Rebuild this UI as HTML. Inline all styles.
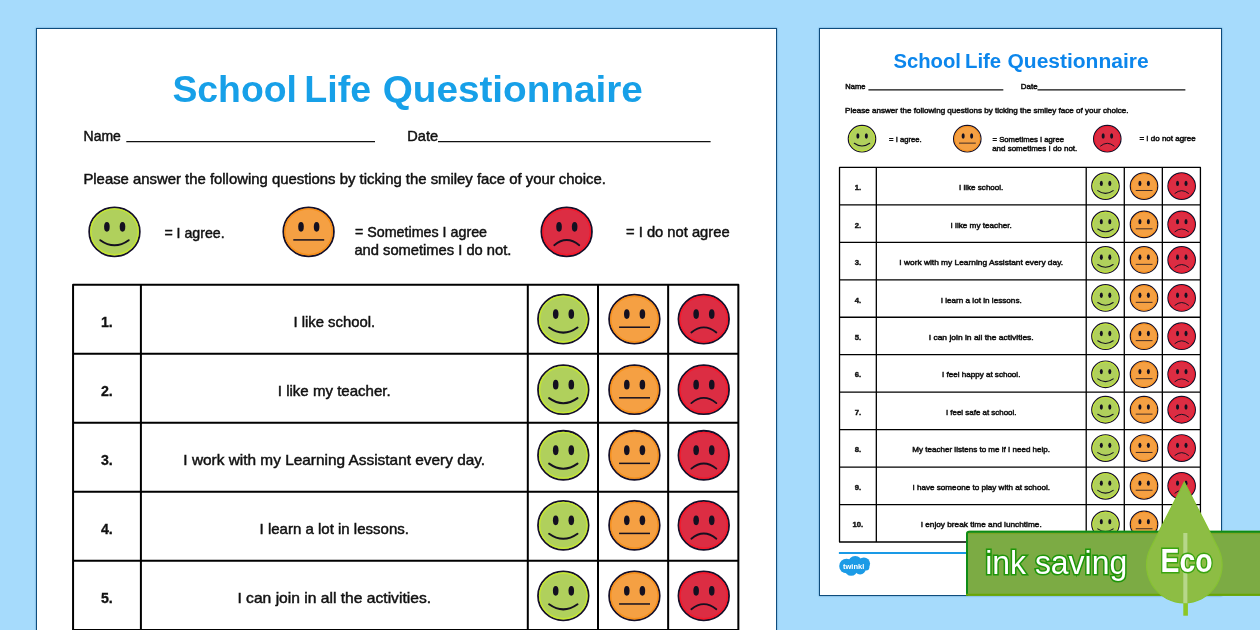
<!DOCTYPE html>
<html><head><meta charset="utf-8"><title>School Life Questionnaire</title>
<style>
html,body{margin:0;padding:0;}
body{width:1260px;height:630px;overflow:hidden;background:#a6dbfc;position:relative;font-family:'Liberation Sans', Arial, sans-serif;}
.pg{position:absolute;background:#fff;box-sizing:border-box;border:1px solid #0e4c7c;box-shadow:0 0 1.5px rgba(20,90,150,.6);overflow:hidden;}
.pg svg{position:absolute;left:-1px;top:-1px;}
#L{left:36px;top:28px;width:741px;height:1045px;}
#R{left:819px;top:28px;width:403px;height:568px;}
#R svg{width:401.99px;height:566.9px;}
#L svg{width:741px;height:1045px;}
text.t{stroke:#111;stroke-width:.45px;}
#R text.t{stroke-width:.9px;}
text.b{stroke:#111;stroke-width:.3px;}
#R text.b{stroke-width:.8px;}
#R .ttl{fill:#0c86ec;}
#R .ul{stroke-width:2.2px;}
#R .ri{stroke-width:1.8px;rx:23.45px;ry:22.65px;}
#R .ln{stroke-width:2.4px;}
#R .fo{stroke-width:2.2px;}
.eco{position:absolute;left:0;top:0;}
</style></head><body>
<div class="pg" id="L"><svg viewBox="0 0 741 1045" width="100%" height="100%" font-family="'Liberation Sans', Arial, sans-serif" style="display:block"><text class="ttl" x="136.4" y="73.7" font-size="37.6" font-weight="bold" text-anchor="start" fill="#17a0e8" textLength="124.5" lengthAdjust="spacingAndGlyphs">School</text><text class="ttl" x="268.3" y="73.7" font-size="37.6" font-weight="bold" text-anchor="start" fill="#17a0e8" textLength="66.8" lengthAdjust="spacingAndGlyphs">Life</text><text class="ttl" x="346.7" y="73.7" font-size="37.6" font-weight="bold" text-anchor="start" fill="#17a0e8" textLength="260.2" lengthAdjust="spacingAndGlyphs">Questionnaire</text><text class="t" x="47.6" y="112.9" font-size="13.8" font-weight="normal" text-anchor="start" fill="#111" textLength="37.3" lengthAdjust="spacingAndGlyphs">Name</text><path class="ul" d="M90.3 113.6H339M402 113.6H674.6" stroke="#111" stroke-width="1.4"/><text class="t" x="371.3" y="112.9" font-size="13.8" font-weight="normal" text-anchor="start" fill="#111" textLength="30.8" lengthAdjust="spacingAndGlyphs">Date</text><text class="t" x="47.4" y="155.6" font-size="14.2" font-weight="normal" text-anchor="start" fill="#111" textLength="522.5" lengthAdjust="spacingAndGlyphs">Please answer the following questions by ticking the smiley face of your choice.</text><ellipse cx="78.50" cy="203.80" rx="25.3" ry="24.5" fill="#b0d05c" class="fo" stroke="#15102a" stroke-width="1.8"/><ellipse cx="78.50" cy="203.80" rx="23.7" ry="22.9" fill="none" class="ri" stroke="#c6e632" stroke-width="1.4"/><ellipse cx="70.90" cy="198.80" rx="2.8" ry="4.9" fill="#141020"/><ellipse cx="86.50" cy="198.80" rx="2.8" ry="4.9" fill="#141020"/><path d="M64.30 212.20 Q78.50 222.40 92.70 212.20" fill="none" stroke="#141020" stroke-width="2" stroke-linecap="round"/><ellipse cx="272.60" cy="203.80" rx="25.3" ry="24.5" fill="#f5a043" class="fo" stroke="#15102a" stroke-width="1.8"/><ellipse cx="272.60" cy="203.80" rx="23.7" ry="22.9" fill="none" class="ri" stroke="#f78f1a" stroke-width="1.4"/><ellipse cx="265.00" cy="198.80" rx="2.8" ry="4.9" fill="#141020"/><ellipse cx="280.60" cy="198.80" rx="2.8" ry="4.9" fill="#141020"/><path d="M257.30 211.90 H288.20" stroke="#141020" stroke-width="1.5"/><ellipse cx="530.65" cy="203.80" rx="25.3" ry="24.5" fill="#dc2d43" class="fo" stroke="#15102a" stroke-width="1.8"/><ellipse cx="530.65" cy="203.80" rx="23.7" ry="22.9" fill="none" class="ri" stroke="#f5182a" stroke-width="1.4"/><ellipse cx="523.05" cy="198.80" rx="2.8" ry="4.9" fill="#141020"/><ellipse cx="538.65" cy="198.80" rx="2.8" ry="4.9" fill="#141020"/><path d="M518.25 217.20 Q530.65 206.80 543.25 217.20" fill="none" stroke="#141020" stroke-width="1.8" stroke-linecap="round"/><text class="t" x="128.4" y="209.6" font-size="14.2" font-weight="normal" text-anchor="start" fill="#111" textLength="60.2" lengthAdjust="spacingAndGlyphs">= I agree.</text><text class="t" x="319" y="209.2" font-size="14.2" font-weight="normal" text-anchor="start" fill="#111" textLength="132" lengthAdjust="spacingAndGlyphs">= Sometimes I agree</text><text class="t" x="318.4" y="226.8" font-size="14.2" font-weight="normal" text-anchor="start" fill="#111" textLength="157" lengthAdjust="spacingAndGlyphs">and sometimes I do not.</text><text class="t" x="590" y="208.9" font-size="14.2" font-weight="normal" text-anchor="start" fill="#111" textLength="103.6" lengthAdjust="spacingAndGlyphs">= I do not agree</text><path d="M104.9 256.67V947.1700000000001M491.8 256.67V947.1700000000001M562.0 256.67V947.1700000000001M632.15 256.67V947.1700000000001M37.07 256.67H702.35V947.17H37.07ZM37.07 256.67H702.35M37.07 325.72H702.35M37.07 394.77H702.35M37.07 463.82H702.35M37.07 532.87H702.35M37.07 601.92H702.35M37.07 670.97H702.35M37.07 740.02H702.35M37.07 809.07H702.35M37.07 878.12H702.35M37.07 947.17H702.35" class="ln" stroke="#000" stroke-width="2" stroke-linejoin="round" fill="none"/><text class="b" x="70.9" y="298.67" font-size="14.2" font-weight="bold" text-anchor="middle" fill="#111">1.</text><text class="t" x="298.25" y="298.67" font-size="14.5" font-weight="normal" text-anchor="middle" fill="#111" textLength="81.7" lengthAdjust="spacingAndGlyphs">I like school.</text><ellipse cx="527.30" cy="291.12" rx="25.3" ry="24.5" fill="#b0d05c" class="fo" stroke="#15102a" stroke-width="1.8"/><ellipse cx="527.30" cy="291.12" rx="23.7" ry="22.9" fill="none" class="ri" stroke="#c6e632" stroke-width="1.4"/><ellipse cx="519.70" cy="286.12" rx="2.8" ry="4.9" fill="#141020"/><ellipse cx="535.30" cy="286.12" rx="2.8" ry="4.9" fill="#141020"/><path d="M513.10 299.52 Q527.30 309.72 541.50 299.52" fill="none" stroke="#141020" stroke-width="2" stroke-linecap="round"/><ellipse cx="598.40" cy="291.12" rx="25.3" ry="24.5" fill="#f5a043" class="fo" stroke="#15102a" stroke-width="1.8"/><ellipse cx="598.40" cy="291.12" rx="23.7" ry="22.9" fill="none" class="ri" stroke="#f78f1a" stroke-width="1.4"/><ellipse cx="590.80" cy="286.12" rx="2.8" ry="4.9" fill="#141020"/><ellipse cx="606.40" cy="286.12" rx="2.8" ry="4.9" fill="#141020"/><path d="M583.10 299.22 H614.00" stroke="#141020" stroke-width="1.5"/><ellipse cx="667.75" cy="291.12" rx="25.3" ry="24.5" fill="#dc2d43" class="fo" stroke="#15102a" stroke-width="1.8"/><ellipse cx="667.75" cy="291.12" rx="23.7" ry="22.9" fill="none" class="ri" stroke="#f5182a" stroke-width="1.4"/><ellipse cx="660.15" cy="286.12" rx="2.8" ry="4.9" fill="#141020"/><ellipse cx="675.75" cy="286.12" rx="2.8" ry="4.9" fill="#141020"/><path d="M655.35 304.52 Q667.75 294.12 680.35 304.52" fill="none" stroke="#141020" stroke-width="1.8" stroke-linecap="round"/><text class="b" x="70.9" y="367.72" font-size="14.2" font-weight="bold" text-anchor="middle" fill="#111">2.</text><text class="t" x="298.25" y="367.72" font-size="14.5" font-weight="normal" text-anchor="middle" fill="#111" textLength="112.9" lengthAdjust="spacingAndGlyphs">I like my teacher.</text><ellipse cx="527.30" cy="361.72" rx="25.3" ry="24.5" fill="#b0d05c" class="fo" stroke="#15102a" stroke-width="1.8"/><ellipse cx="527.30" cy="361.72" rx="23.7" ry="22.9" fill="none" class="ri" stroke="#c6e632" stroke-width="1.4"/><ellipse cx="519.70" cy="356.72" rx="2.8" ry="4.9" fill="#141020"/><ellipse cx="535.30" cy="356.72" rx="2.8" ry="4.9" fill="#141020"/><path d="M513.10 370.12 Q527.30 380.32 541.50 370.12" fill="none" stroke="#141020" stroke-width="2" stroke-linecap="round"/><ellipse cx="598.40" cy="361.72" rx="25.3" ry="24.5" fill="#f5a043" class="fo" stroke="#15102a" stroke-width="1.8"/><ellipse cx="598.40" cy="361.72" rx="23.7" ry="22.9" fill="none" class="ri" stroke="#f78f1a" stroke-width="1.4"/><ellipse cx="590.80" cy="356.72" rx="2.8" ry="4.9" fill="#141020"/><ellipse cx="606.40" cy="356.72" rx="2.8" ry="4.9" fill="#141020"/><path d="M583.10 369.82 H614.00" stroke="#141020" stroke-width="1.5"/><ellipse cx="667.75" cy="361.72" rx="25.3" ry="24.5" fill="#dc2d43" class="fo" stroke="#15102a" stroke-width="1.8"/><ellipse cx="667.75" cy="361.72" rx="23.7" ry="22.9" fill="none" class="ri" stroke="#f5182a" stroke-width="1.4"/><ellipse cx="660.15" cy="356.72" rx="2.8" ry="4.9" fill="#141020"/><ellipse cx="675.75" cy="356.72" rx="2.8" ry="4.9" fill="#141020"/><path d="M655.35 375.12 Q667.75 364.72 680.35 375.12" fill="none" stroke="#141020" stroke-width="1.8" stroke-linecap="round"/><text class="b" x="70.9" y="436.77" font-size="14.2" font-weight="bold" text-anchor="middle" fill="#111">3.</text><text class="t" x="298.25" y="436.77" font-size="14.5" font-weight="normal" text-anchor="middle" fill="#111" textLength="301.8" lengthAdjust="spacingAndGlyphs">I work with my Learning Assistant every day.</text><ellipse cx="527.30" cy="427.27" rx="25.3" ry="24.5" fill="#b0d05c" class="fo" stroke="#15102a" stroke-width="1.8"/><ellipse cx="527.30" cy="427.27" rx="23.7" ry="22.9" fill="none" class="ri" stroke="#c6e632" stroke-width="1.4"/><ellipse cx="519.70" cy="422.27" rx="2.8" ry="4.9" fill="#141020"/><ellipse cx="535.30" cy="422.27" rx="2.8" ry="4.9" fill="#141020"/><path d="M513.10 435.67 Q527.30 445.87 541.50 435.67" fill="none" stroke="#141020" stroke-width="2" stroke-linecap="round"/><ellipse cx="598.40" cy="427.27" rx="25.3" ry="24.5" fill="#f5a043" class="fo" stroke="#15102a" stroke-width="1.8"/><ellipse cx="598.40" cy="427.27" rx="23.7" ry="22.9" fill="none" class="ri" stroke="#f78f1a" stroke-width="1.4"/><ellipse cx="590.80" cy="422.27" rx="2.8" ry="4.9" fill="#141020"/><ellipse cx="606.40" cy="422.27" rx="2.8" ry="4.9" fill="#141020"/><path d="M583.10 435.37 H614.00" stroke="#141020" stroke-width="1.5"/><ellipse cx="667.75" cy="427.27" rx="25.3" ry="24.5" fill="#dc2d43" class="fo" stroke="#15102a" stroke-width="1.8"/><ellipse cx="667.75" cy="427.27" rx="23.7" ry="22.9" fill="none" class="ri" stroke="#f5182a" stroke-width="1.4"/><ellipse cx="660.15" cy="422.27" rx="2.8" ry="4.9" fill="#141020"/><ellipse cx="675.75" cy="422.27" rx="2.8" ry="4.9" fill="#141020"/><path d="M655.35 440.67 Q667.75 430.27 680.35 440.67" fill="none" stroke="#141020" stroke-width="1.8" stroke-linecap="round"/><text class="b" x="70.9" y="505.82" font-size="14.2" font-weight="bold" text-anchor="middle" fill="#111">4.</text><text class="t" x="298.25" y="505.82" font-size="14.5" font-weight="normal" text-anchor="middle" fill="#111" textLength="149.4" lengthAdjust="spacingAndGlyphs">I learn a lot in lessons.</text><ellipse cx="527.30" cy="497.32" rx="25.3" ry="24.5" fill="#b0d05c" class="fo" stroke="#15102a" stroke-width="1.8"/><ellipse cx="527.30" cy="497.32" rx="23.7" ry="22.9" fill="none" class="ri" stroke="#c6e632" stroke-width="1.4"/><ellipse cx="519.70" cy="492.32" rx="2.8" ry="4.9" fill="#141020"/><ellipse cx="535.30" cy="492.32" rx="2.8" ry="4.9" fill="#141020"/><path d="M513.10 505.72 Q527.30 515.92 541.50 505.72" fill="none" stroke="#141020" stroke-width="2" stroke-linecap="round"/><ellipse cx="598.40" cy="497.32" rx="25.3" ry="24.5" fill="#f5a043" class="fo" stroke="#15102a" stroke-width="1.8"/><ellipse cx="598.40" cy="497.32" rx="23.7" ry="22.9" fill="none" class="ri" stroke="#f78f1a" stroke-width="1.4"/><ellipse cx="590.80" cy="492.32" rx="2.8" ry="4.9" fill="#141020"/><ellipse cx="606.40" cy="492.32" rx="2.8" ry="4.9" fill="#141020"/><path d="M583.10 505.42 H614.00" stroke="#141020" stroke-width="1.5"/><ellipse cx="667.75" cy="497.32" rx="25.3" ry="24.5" fill="#dc2d43" class="fo" stroke="#15102a" stroke-width="1.8"/><ellipse cx="667.75" cy="497.32" rx="23.7" ry="22.9" fill="none" class="ri" stroke="#f5182a" stroke-width="1.4"/><ellipse cx="660.15" cy="492.32" rx="2.8" ry="4.9" fill="#141020"/><ellipse cx="675.75" cy="492.32" rx="2.8" ry="4.9" fill="#141020"/><path d="M655.35 510.72 Q667.75 500.32 680.35 510.72" fill="none" stroke="#141020" stroke-width="1.8" stroke-linecap="round"/><text class="b" x="70.9" y="574.87" font-size="14.2" font-weight="bold" text-anchor="middle" fill="#111">5.</text><text class="t" x="298.25" y="574.87" font-size="14.5" font-weight="normal" text-anchor="middle" fill="#111" textLength="193.6" lengthAdjust="spacingAndGlyphs">I can join in all the activities.</text><ellipse cx="527.30" cy="567.87" rx="25.3" ry="24.5" fill="#b0d05c" class="fo" stroke="#15102a" stroke-width="1.8"/><ellipse cx="527.30" cy="567.87" rx="23.7" ry="22.9" fill="none" class="ri" stroke="#c6e632" stroke-width="1.4"/><ellipse cx="519.70" cy="562.87" rx="2.8" ry="4.9" fill="#141020"/><ellipse cx="535.30" cy="562.87" rx="2.8" ry="4.9" fill="#141020"/><path d="M513.10 576.27 Q527.30 586.47 541.50 576.27" fill="none" stroke="#141020" stroke-width="2" stroke-linecap="round"/><ellipse cx="598.40" cy="567.87" rx="25.3" ry="24.5" fill="#f5a043" class="fo" stroke="#15102a" stroke-width="1.8"/><ellipse cx="598.40" cy="567.87" rx="23.7" ry="22.9" fill="none" class="ri" stroke="#f78f1a" stroke-width="1.4"/><ellipse cx="590.80" cy="562.87" rx="2.8" ry="4.9" fill="#141020"/><ellipse cx="606.40" cy="562.87" rx="2.8" ry="4.9" fill="#141020"/><path d="M583.10 575.97 H614.00" stroke="#141020" stroke-width="1.5"/><ellipse cx="667.75" cy="567.87" rx="25.3" ry="24.5" fill="#dc2d43" class="fo" stroke="#15102a" stroke-width="1.8"/><ellipse cx="667.75" cy="567.87" rx="23.7" ry="22.9" fill="none" class="ri" stroke="#f5182a" stroke-width="1.4"/><ellipse cx="660.15" cy="562.87" rx="2.8" ry="4.9" fill="#141020"/><ellipse cx="675.75" cy="562.87" rx="2.8" ry="4.9" fill="#141020"/><path d="M655.35 581.27 Q667.75 570.87 680.35 581.27" fill="none" stroke="#141020" stroke-width="1.8" stroke-linecap="round"/><text class="b" x="70.9" y="643.92" font-size="14.2" font-weight="bold" text-anchor="middle" fill="#111">6.</text><text class="t" x="298.25" y="643.92" font-size="14.5" font-weight="normal" text-anchor="middle" fill="#111" textLength="144.4" lengthAdjust="spacingAndGlyphs">I feel happy at school.</text><ellipse cx="527.30" cy="638.02" rx="25.3" ry="24.5" fill="#b0d05c" class="fo" stroke="#15102a" stroke-width="1.8"/><ellipse cx="527.30" cy="638.02" rx="23.7" ry="22.9" fill="none" class="ri" stroke="#c6e632" stroke-width="1.4"/><ellipse cx="519.70" cy="633.02" rx="2.8" ry="4.9" fill="#141020"/><ellipse cx="535.30" cy="633.02" rx="2.8" ry="4.9" fill="#141020"/><path d="M513.10 646.42 Q527.30 656.62 541.50 646.42" fill="none" stroke="#141020" stroke-width="2" stroke-linecap="round"/><ellipse cx="598.40" cy="638.02" rx="25.3" ry="24.5" fill="#f5a043" class="fo" stroke="#15102a" stroke-width="1.8"/><ellipse cx="598.40" cy="638.02" rx="23.7" ry="22.9" fill="none" class="ri" stroke="#f78f1a" stroke-width="1.4"/><ellipse cx="590.80" cy="633.02" rx="2.8" ry="4.9" fill="#141020"/><ellipse cx="606.40" cy="633.02" rx="2.8" ry="4.9" fill="#141020"/><path d="M583.10 646.12 H614.00" stroke="#141020" stroke-width="1.5"/><ellipse cx="667.75" cy="638.02" rx="25.3" ry="24.5" fill="#dc2d43" class="fo" stroke="#15102a" stroke-width="1.8"/><ellipse cx="667.75" cy="638.02" rx="23.7" ry="22.9" fill="none" class="ri" stroke="#f5182a" stroke-width="1.4"/><ellipse cx="660.15" cy="633.02" rx="2.8" ry="4.9" fill="#141020"/><ellipse cx="675.75" cy="633.02" rx="2.8" ry="4.9" fill="#141020"/><path d="M655.35 651.42 Q667.75 641.02 680.35 651.42" fill="none" stroke="#141020" stroke-width="1.8" stroke-linecap="round"/><text class="b" x="70.9" y="712.97" font-size="14.2" font-weight="bold" text-anchor="middle" fill="#111">7.</text><text class="t" x="298.25" y="712.97" font-size="14.5" font-weight="normal" text-anchor="middle" fill="#111" textLength="130" lengthAdjust="spacingAndGlyphs">I feel safe at school.</text><ellipse cx="527.30" cy="703.37" rx="25.3" ry="24.5" fill="#b0d05c" class="fo" stroke="#15102a" stroke-width="1.8"/><ellipse cx="527.30" cy="703.37" rx="23.7" ry="22.9" fill="none" class="ri" stroke="#c6e632" stroke-width="1.4"/><ellipse cx="519.70" cy="698.37" rx="2.8" ry="4.9" fill="#141020"/><ellipse cx="535.30" cy="698.37" rx="2.8" ry="4.9" fill="#141020"/><path d="M513.10 711.77 Q527.30 721.97 541.50 711.77" fill="none" stroke="#141020" stroke-width="2" stroke-linecap="round"/><ellipse cx="598.40" cy="703.37" rx="25.3" ry="24.5" fill="#f5a043" class="fo" stroke="#15102a" stroke-width="1.8"/><ellipse cx="598.40" cy="703.37" rx="23.7" ry="22.9" fill="none" class="ri" stroke="#f78f1a" stroke-width="1.4"/><ellipse cx="590.80" cy="698.37" rx="2.8" ry="4.9" fill="#141020"/><ellipse cx="606.40" cy="698.37" rx="2.8" ry="4.9" fill="#141020"/><path d="M583.10 711.47 H614.00" stroke="#141020" stroke-width="1.5"/><ellipse cx="667.75" cy="703.37" rx="25.3" ry="24.5" fill="#dc2d43" class="fo" stroke="#15102a" stroke-width="1.8"/><ellipse cx="667.75" cy="703.37" rx="23.7" ry="22.9" fill="none" class="ri" stroke="#f5182a" stroke-width="1.4"/><ellipse cx="660.15" cy="698.37" rx="2.8" ry="4.9" fill="#141020"/><ellipse cx="675.75" cy="698.37" rx="2.8" ry="4.9" fill="#141020"/><path d="M655.35 716.77 Q667.75 706.37 680.35 716.77" fill="none" stroke="#141020" stroke-width="1.8" stroke-linecap="round"/><text class="b" x="70.9" y="782.02" font-size="14.2" font-weight="bold" text-anchor="middle" fill="#111">8.</text><text class="t" x="298.25" y="782.02" font-size="14.5" font-weight="normal" text-anchor="middle" fill="#111" textLength="253.9" lengthAdjust="spacingAndGlyphs">My teacher listens to me if I need help.</text><ellipse cx="527.30" cy="774.02" rx="25.3" ry="24.5" fill="#b0d05c" class="fo" stroke="#15102a" stroke-width="1.8"/><ellipse cx="527.30" cy="774.02" rx="23.7" ry="22.9" fill="none" class="ri" stroke="#c6e632" stroke-width="1.4"/><ellipse cx="519.70" cy="769.02" rx="2.8" ry="4.9" fill="#141020"/><ellipse cx="535.30" cy="769.02" rx="2.8" ry="4.9" fill="#141020"/><path d="M513.10 782.42 Q527.30 792.62 541.50 782.42" fill="none" stroke="#141020" stroke-width="2" stroke-linecap="round"/><ellipse cx="598.40" cy="774.02" rx="25.3" ry="24.5" fill="#f5a043" class="fo" stroke="#15102a" stroke-width="1.8"/><ellipse cx="598.40" cy="774.02" rx="23.7" ry="22.9" fill="none" class="ri" stroke="#f78f1a" stroke-width="1.4"/><ellipse cx="590.80" cy="769.02" rx="2.8" ry="4.9" fill="#141020"/><ellipse cx="606.40" cy="769.02" rx="2.8" ry="4.9" fill="#141020"/><path d="M583.10 782.12 H614.00" stroke="#141020" stroke-width="1.5"/><ellipse cx="667.75" cy="774.02" rx="25.3" ry="24.5" fill="#dc2d43" class="fo" stroke="#15102a" stroke-width="1.8"/><ellipse cx="667.75" cy="774.02" rx="23.7" ry="22.9" fill="none" class="ri" stroke="#f5182a" stroke-width="1.4"/><ellipse cx="660.15" cy="769.02" rx="2.8" ry="4.9" fill="#141020"/><ellipse cx="675.75" cy="769.02" rx="2.8" ry="4.9" fill="#141020"/><path d="M655.35 787.42 Q667.75 777.02 680.35 787.42" fill="none" stroke="#141020" stroke-width="1.8" stroke-linecap="round"/><text class="b" x="70.9" y="851.07" font-size="14.2" font-weight="bold" text-anchor="middle" fill="#111">9.</text><text class="t" x="298.25" y="851.07" font-size="14.5" font-weight="normal" text-anchor="middle" fill="#111" textLength="253.5" lengthAdjust="spacingAndGlyphs">I have someone to play with at school.</text><ellipse cx="527.30" cy="843.67" rx="25.3" ry="24.5" fill="#b0d05c" class="fo" stroke="#15102a" stroke-width="1.8"/><ellipse cx="527.30" cy="843.67" rx="23.7" ry="22.9" fill="none" class="ri" stroke="#c6e632" stroke-width="1.4"/><ellipse cx="519.70" cy="838.67" rx="2.8" ry="4.9" fill="#141020"/><ellipse cx="535.30" cy="838.67" rx="2.8" ry="4.9" fill="#141020"/><path d="M513.10 852.07 Q527.30 862.27 541.50 852.07" fill="none" stroke="#141020" stroke-width="2" stroke-linecap="round"/><ellipse cx="598.40" cy="843.67" rx="25.3" ry="24.5" fill="#f5a043" class="fo" stroke="#15102a" stroke-width="1.8"/><ellipse cx="598.40" cy="843.67" rx="23.7" ry="22.9" fill="none" class="ri" stroke="#f78f1a" stroke-width="1.4"/><ellipse cx="590.80" cy="838.67" rx="2.8" ry="4.9" fill="#141020"/><ellipse cx="606.40" cy="838.67" rx="2.8" ry="4.9" fill="#141020"/><path d="M583.10 851.77 H614.00" stroke="#141020" stroke-width="1.5"/><ellipse cx="667.75" cy="843.67" rx="25.3" ry="24.5" fill="#dc2d43" class="fo" stroke="#15102a" stroke-width="1.8"/><ellipse cx="667.75" cy="843.67" rx="23.7" ry="22.9" fill="none" class="ri" stroke="#f5182a" stroke-width="1.4"/><ellipse cx="660.15" cy="838.67" rx="2.8" ry="4.9" fill="#141020"/><ellipse cx="675.75" cy="838.67" rx="2.8" ry="4.9" fill="#141020"/><path d="M655.35 857.07 Q667.75 846.67 680.35 857.07" fill="none" stroke="#141020" stroke-width="1.8" stroke-linecap="round"/><text class="b" x="70.9" y="920.12" font-size="14.2" font-weight="bold" text-anchor="middle" fill="#111">10.</text><text class="t" x="298.25" y="920.12" font-size="14.5" font-weight="normal" text-anchor="middle" fill="#111" textLength="223" lengthAdjust="spacingAndGlyphs">I enjoy break time and lunchtime.</text><ellipse cx="527.30" cy="914.62" rx="25.3" ry="24.5" fill="#b0d05c" class="fo" stroke="#15102a" stroke-width="1.8"/><ellipse cx="527.30" cy="914.62" rx="23.7" ry="22.9" fill="none" class="ri" stroke="#c6e632" stroke-width="1.4"/><ellipse cx="519.70" cy="909.62" rx="2.8" ry="4.9" fill="#141020"/><ellipse cx="535.30" cy="909.62" rx="2.8" ry="4.9" fill="#141020"/><path d="M513.10 923.02 Q527.30 933.22 541.50 923.02" fill="none" stroke="#141020" stroke-width="2" stroke-linecap="round"/><ellipse cx="598.40" cy="914.62" rx="25.3" ry="24.5" fill="#f5a043" class="fo" stroke="#15102a" stroke-width="1.8"/><ellipse cx="598.40" cy="914.62" rx="23.7" ry="22.9" fill="none" class="ri" stroke="#f78f1a" stroke-width="1.4"/><ellipse cx="590.80" cy="909.62" rx="2.8" ry="4.9" fill="#141020"/><ellipse cx="606.40" cy="909.62" rx="2.8" ry="4.9" fill="#141020"/><path d="M583.10 922.72 H614.00" stroke="#141020" stroke-width="1.5"/><ellipse cx="667.75" cy="914.62" rx="25.3" ry="24.5" fill="#dc2d43" class="fo" stroke="#15102a" stroke-width="1.8"/><ellipse cx="667.75" cy="914.62" rx="23.7" ry="22.9" fill="none" class="ri" stroke="#f5182a" stroke-width="1.4"/><ellipse cx="660.15" cy="909.62" rx="2.8" ry="4.9" fill="#141020"/><ellipse cx="675.75" cy="909.62" rx="2.8" ry="4.9" fill="#141020"/><path d="M655.35 928.02 Q667.75 917.62 680.35 928.02" fill="none" stroke="#141020" stroke-width="1.8" stroke-linecap="round"/><path d="M35.9 967.4H702.35" stroke="#1a9ae6" stroke-width="3.5"/><g fill="#1c9be6"><circle cx="50" cy="991.5" r="13.5"/><circle cx="66" cy="986" r="13"/><circle cx="82" cy="987" r="11.4"/><circle cx="58.5" cy="997.8" r="11.6"/><circle cx="75" cy="996.5" r="10.5"/><circle cx="86" cy="993.5" r="6"/></g><text x="63" y="996.5" font-size="13" font-weight="bold" text-anchor="middle" fill="#fff" textLength="39.3" lengthAdjust="spacingAndGlyphs">twinkl</text></svg></div>
<div class="pg" id="R"><svg viewBox="-0.756 -0.33 741 1045" width="100%" height="100%" font-family="'Liberation Sans', Arial, sans-serif" style="display:block"><text class="ttl" x="136.4" y="73.7" font-size="37.6" font-weight="bold" text-anchor="start" fill="#17a0e8" textLength="124.5" lengthAdjust="spacingAndGlyphs">School</text><text class="ttl" x="268.3" y="73.7" font-size="37.6" font-weight="bold" text-anchor="start" fill="#17a0e8" textLength="66.8" lengthAdjust="spacingAndGlyphs">Life</text><text class="ttl" x="346.7" y="73.7" font-size="37.6" font-weight="bold" text-anchor="start" fill="#17a0e8" textLength="260.2" lengthAdjust="spacingAndGlyphs">Questionnaire</text><text class="t" x="47.6" y="112.9" font-size="13.8" font-weight="normal" text-anchor="start" fill="#111" textLength="37.3" lengthAdjust="spacingAndGlyphs">Name</text><path class="ul" d="M90.3 113.6H339M402 113.6H674.6" stroke="#111" stroke-width="1.4"/><text class="t" x="371.3" y="112.9" font-size="13.8" font-weight="normal" text-anchor="start" fill="#111" textLength="30.8" lengthAdjust="spacingAndGlyphs">Date</text><text class="t" x="47.4" y="155.6" font-size="14.2" font-weight="normal" text-anchor="start" fill="#111" textLength="522.5" lengthAdjust="spacingAndGlyphs">Please answer the following questions by ticking the smiley face of your choice.</text><ellipse cx="78.50" cy="203.80" rx="25.3" ry="24.5" fill="#b0d05c" class="fo" stroke="#15102a" stroke-width="1.8"/><ellipse cx="78.50" cy="203.80" rx="23.7" ry="22.9" fill="none" class="ri" stroke="#c6e632" stroke-width="1.4"/><ellipse cx="70.90" cy="198.80" rx="2.8" ry="4.9" fill="#141020"/><ellipse cx="86.50" cy="198.80" rx="2.8" ry="4.9" fill="#141020"/><path d="M64.30 212.20 Q78.50 222.40 92.70 212.20" fill="none" stroke="#141020" stroke-width="2" stroke-linecap="round"/><ellipse cx="272.60" cy="203.80" rx="25.3" ry="24.5" fill="#f5a043" class="fo" stroke="#15102a" stroke-width="1.8"/><ellipse cx="272.60" cy="203.80" rx="23.7" ry="22.9" fill="none" class="ri" stroke="#f78f1a" stroke-width="1.4"/><ellipse cx="265.00" cy="198.80" rx="2.8" ry="4.9" fill="#141020"/><ellipse cx="280.60" cy="198.80" rx="2.8" ry="4.9" fill="#141020"/><path d="M257.30 211.90 H288.20" stroke="#141020" stroke-width="1.5"/><ellipse cx="530.65" cy="203.80" rx="25.3" ry="24.5" fill="#dc2d43" class="fo" stroke="#15102a" stroke-width="1.8"/><ellipse cx="530.65" cy="203.80" rx="23.7" ry="22.9" fill="none" class="ri" stroke="#f5182a" stroke-width="1.4"/><ellipse cx="523.05" cy="198.80" rx="2.8" ry="4.9" fill="#141020"/><ellipse cx="538.65" cy="198.80" rx="2.8" ry="4.9" fill="#141020"/><path d="M518.25 217.20 Q530.65 206.80 543.25 217.20" fill="none" stroke="#141020" stroke-width="1.8" stroke-linecap="round"/><text class="t" x="128.4" y="209.6" font-size="14.2" font-weight="normal" text-anchor="start" fill="#111" textLength="60.2" lengthAdjust="spacingAndGlyphs">= I agree.</text><text class="t" x="319" y="209.2" font-size="14.2" font-weight="normal" text-anchor="start" fill="#111" textLength="132" lengthAdjust="spacingAndGlyphs">= Sometimes I agree</text><text class="t" x="318.4" y="226.8" font-size="14.2" font-weight="normal" text-anchor="start" fill="#111" textLength="157" lengthAdjust="spacingAndGlyphs">and sometimes I do not.</text><text class="t" x="590" y="208.9" font-size="14.2" font-weight="normal" text-anchor="start" fill="#111" textLength="103.6" lengthAdjust="spacingAndGlyphs">= I do not agree</text><path d="M104.9 256.67V947.1700000000001M491.8 256.67V947.1700000000001M562.0 256.67V947.1700000000001M632.15 256.67V947.1700000000001M37.07 256.67H702.35V947.17H37.07ZM37.07 256.67H702.35M37.07 325.72H702.35M37.07 394.77H702.35M37.07 463.82H702.35M37.07 532.87H702.35M37.07 601.92H702.35M37.07 670.97H702.35M37.07 740.02H702.35M37.07 809.07H702.35M37.07 878.12H702.35M37.07 947.17H702.35" class="ln" stroke="#000" stroke-width="2" stroke-linejoin="round" fill="none"/><text class="b" x="70.9" y="298.67" font-size="14.2" font-weight="bold" text-anchor="middle" fill="#111">1.</text><text class="t" x="298.25" y="298.67" font-size="14.5" font-weight="normal" text-anchor="middle" fill="#111" textLength="81.7" lengthAdjust="spacingAndGlyphs">I like school.</text><ellipse cx="527.30" cy="291.12" rx="25.3" ry="24.5" fill="#b0d05c" class="fo" stroke="#15102a" stroke-width="1.8"/><ellipse cx="527.30" cy="291.12" rx="23.7" ry="22.9" fill="none" class="ri" stroke="#c6e632" stroke-width="1.4"/><ellipse cx="519.70" cy="286.12" rx="2.8" ry="4.9" fill="#141020"/><ellipse cx="535.30" cy="286.12" rx="2.8" ry="4.9" fill="#141020"/><path d="M513.10 299.52 Q527.30 309.72 541.50 299.52" fill="none" stroke="#141020" stroke-width="2" stroke-linecap="round"/><ellipse cx="598.40" cy="291.12" rx="25.3" ry="24.5" fill="#f5a043" class="fo" stroke="#15102a" stroke-width="1.8"/><ellipse cx="598.40" cy="291.12" rx="23.7" ry="22.9" fill="none" class="ri" stroke="#f78f1a" stroke-width="1.4"/><ellipse cx="590.80" cy="286.12" rx="2.8" ry="4.9" fill="#141020"/><ellipse cx="606.40" cy="286.12" rx="2.8" ry="4.9" fill="#141020"/><path d="M583.10 299.22 H614.00" stroke="#141020" stroke-width="1.5"/><ellipse cx="667.75" cy="291.12" rx="25.3" ry="24.5" fill="#dc2d43" class="fo" stroke="#15102a" stroke-width="1.8"/><ellipse cx="667.75" cy="291.12" rx="23.7" ry="22.9" fill="none" class="ri" stroke="#f5182a" stroke-width="1.4"/><ellipse cx="660.15" cy="286.12" rx="2.8" ry="4.9" fill="#141020"/><ellipse cx="675.75" cy="286.12" rx="2.8" ry="4.9" fill="#141020"/><path d="M655.35 304.52 Q667.75 294.12 680.35 304.52" fill="none" stroke="#141020" stroke-width="1.8" stroke-linecap="round"/><text class="b" x="70.9" y="367.72" font-size="14.2" font-weight="bold" text-anchor="middle" fill="#111">2.</text><text class="t" x="298.25" y="367.72" font-size="14.5" font-weight="normal" text-anchor="middle" fill="#111" textLength="112.9" lengthAdjust="spacingAndGlyphs">I like my teacher.</text><ellipse cx="527.30" cy="361.72" rx="25.3" ry="24.5" fill="#b0d05c" class="fo" stroke="#15102a" stroke-width="1.8"/><ellipse cx="527.30" cy="361.72" rx="23.7" ry="22.9" fill="none" class="ri" stroke="#c6e632" stroke-width="1.4"/><ellipse cx="519.70" cy="356.72" rx="2.8" ry="4.9" fill="#141020"/><ellipse cx="535.30" cy="356.72" rx="2.8" ry="4.9" fill="#141020"/><path d="M513.10 370.12 Q527.30 380.32 541.50 370.12" fill="none" stroke="#141020" stroke-width="2" stroke-linecap="round"/><ellipse cx="598.40" cy="361.72" rx="25.3" ry="24.5" fill="#f5a043" class="fo" stroke="#15102a" stroke-width="1.8"/><ellipse cx="598.40" cy="361.72" rx="23.7" ry="22.9" fill="none" class="ri" stroke="#f78f1a" stroke-width="1.4"/><ellipse cx="590.80" cy="356.72" rx="2.8" ry="4.9" fill="#141020"/><ellipse cx="606.40" cy="356.72" rx="2.8" ry="4.9" fill="#141020"/><path d="M583.10 369.82 H614.00" stroke="#141020" stroke-width="1.5"/><ellipse cx="667.75" cy="361.72" rx="25.3" ry="24.5" fill="#dc2d43" class="fo" stroke="#15102a" stroke-width="1.8"/><ellipse cx="667.75" cy="361.72" rx="23.7" ry="22.9" fill="none" class="ri" stroke="#f5182a" stroke-width="1.4"/><ellipse cx="660.15" cy="356.72" rx="2.8" ry="4.9" fill="#141020"/><ellipse cx="675.75" cy="356.72" rx="2.8" ry="4.9" fill="#141020"/><path d="M655.35 375.12 Q667.75 364.72 680.35 375.12" fill="none" stroke="#141020" stroke-width="1.8" stroke-linecap="round"/><text class="b" x="70.9" y="436.77" font-size="14.2" font-weight="bold" text-anchor="middle" fill="#111">3.</text><text class="t" x="298.25" y="436.77" font-size="14.5" font-weight="normal" text-anchor="middle" fill="#111" textLength="301.8" lengthAdjust="spacingAndGlyphs">I work with my Learning Assistant every day.</text><ellipse cx="527.30" cy="427.27" rx="25.3" ry="24.5" fill="#b0d05c" class="fo" stroke="#15102a" stroke-width="1.8"/><ellipse cx="527.30" cy="427.27" rx="23.7" ry="22.9" fill="none" class="ri" stroke="#c6e632" stroke-width="1.4"/><ellipse cx="519.70" cy="422.27" rx="2.8" ry="4.9" fill="#141020"/><ellipse cx="535.30" cy="422.27" rx="2.8" ry="4.9" fill="#141020"/><path d="M513.10 435.67 Q527.30 445.87 541.50 435.67" fill="none" stroke="#141020" stroke-width="2" stroke-linecap="round"/><ellipse cx="598.40" cy="427.27" rx="25.3" ry="24.5" fill="#f5a043" class="fo" stroke="#15102a" stroke-width="1.8"/><ellipse cx="598.40" cy="427.27" rx="23.7" ry="22.9" fill="none" class="ri" stroke="#f78f1a" stroke-width="1.4"/><ellipse cx="590.80" cy="422.27" rx="2.8" ry="4.9" fill="#141020"/><ellipse cx="606.40" cy="422.27" rx="2.8" ry="4.9" fill="#141020"/><path d="M583.10 435.37 H614.00" stroke="#141020" stroke-width="1.5"/><ellipse cx="667.75" cy="427.27" rx="25.3" ry="24.5" fill="#dc2d43" class="fo" stroke="#15102a" stroke-width="1.8"/><ellipse cx="667.75" cy="427.27" rx="23.7" ry="22.9" fill="none" class="ri" stroke="#f5182a" stroke-width="1.4"/><ellipse cx="660.15" cy="422.27" rx="2.8" ry="4.9" fill="#141020"/><ellipse cx="675.75" cy="422.27" rx="2.8" ry="4.9" fill="#141020"/><path d="M655.35 440.67 Q667.75 430.27 680.35 440.67" fill="none" stroke="#141020" stroke-width="1.8" stroke-linecap="round"/><text class="b" x="70.9" y="505.82" font-size="14.2" font-weight="bold" text-anchor="middle" fill="#111">4.</text><text class="t" x="298.25" y="505.82" font-size="14.5" font-weight="normal" text-anchor="middle" fill="#111" textLength="149.4" lengthAdjust="spacingAndGlyphs">I learn a lot in lessons.</text><ellipse cx="527.30" cy="497.32" rx="25.3" ry="24.5" fill="#b0d05c" class="fo" stroke="#15102a" stroke-width="1.8"/><ellipse cx="527.30" cy="497.32" rx="23.7" ry="22.9" fill="none" class="ri" stroke="#c6e632" stroke-width="1.4"/><ellipse cx="519.70" cy="492.32" rx="2.8" ry="4.9" fill="#141020"/><ellipse cx="535.30" cy="492.32" rx="2.8" ry="4.9" fill="#141020"/><path d="M513.10 505.72 Q527.30 515.92 541.50 505.72" fill="none" stroke="#141020" stroke-width="2" stroke-linecap="round"/><ellipse cx="598.40" cy="497.32" rx="25.3" ry="24.5" fill="#f5a043" class="fo" stroke="#15102a" stroke-width="1.8"/><ellipse cx="598.40" cy="497.32" rx="23.7" ry="22.9" fill="none" class="ri" stroke="#f78f1a" stroke-width="1.4"/><ellipse cx="590.80" cy="492.32" rx="2.8" ry="4.9" fill="#141020"/><ellipse cx="606.40" cy="492.32" rx="2.8" ry="4.9" fill="#141020"/><path d="M583.10 505.42 H614.00" stroke="#141020" stroke-width="1.5"/><ellipse cx="667.75" cy="497.32" rx="25.3" ry="24.5" fill="#dc2d43" class="fo" stroke="#15102a" stroke-width="1.8"/><ellipse cx="667.75" cy="497.32" rx="23.7" ry="22.9" fill="none" class="ri" stroke="#f5182a" stroke-width="1.4"/><ellipse cx="660.15" cy="492.32" rx="2.8" ry="4.9" fill="#141020"/><ellipse cx="675.75" cy="492.32" rx="2.8" ry="4.9" fill="#141020"/><path d="M655.35 510.72 Q667.75 500.32 680.35 510.72" fill="none" stroke="#141020" stroke-width="1.8" stroke-linecap="round"/><text class="b" x="70.9" y="574.87" font-size="14.2" font-weight="bold" text-anchor="middle" fill="#111">5.</text><text class="t" x="298.25" y="574.87" font-size="14.5" font-weight="normal" text-anchor="middle" fill="#111" textLength="193.6" lengthAdjust="spacingAndGlyphs">I can join in all the activities.</text><ellipse cx="527.30" cy="567.87" rx="25.3" ry="24.5" fill="#b0d05c" class="fo" stroke="#15102a" stroke-width="1.8"/><ellipse cx="527.30" cy="567.87" rx="23.7" ry="22.9" fill="none" class="ri" stroke="#c6e632" stroke-width="1.4"/><ellipse cx="519.70" cy="562.87" rx="2.8" ry="4.9" fill="#141020"/><ellipse cx="535.30" cy="562.87" rx="2.8" ry="4.9" fill="#141020"/><path d="M513.10 576.27 Q527.30 586.47 541.50 576.27" fill="none" stroke="#141020" stroke-width="2" stroke-linecap="round"/><ellipse cx="598.40" cy="567.87" rx="25.3" ry="24.5" fill="#f5a043" class="fo" stroke="#15102a" stroke-width="1.8"/><ellipse cx="598.40" cy="567.87" rx="23.7" ry="22.9" fill="none" class="ri" stroke="#f78f1a" stroke-width="1.4"/><ellipse cx="590.80" cy="562.87" rx="2.8" ry="4.9" fill="#141020"/><ellipse cx="606.40" cy="562.87" rx="2.8" ry="4.9" fill="#141020"/><path d="M583.10 575.97 H614.00" stroke="#141020" stroke-width="1.5"/><ellipse cx="667.75" cy="567.87" rx="25.3" ry="24.5" fill="#dc2d43" class="fo" stroke="#15102a" stroke-width="1.8"/><ellipse cx="667.75" cy="567.87" rx="23.7" ry="22.9" fill="none" class="ri" stroke="#f5182a" stroke-width="1.4"/><ellipse cx="660.15" cy="562.87" rx="2.8" ry="4.9" fill="#141020"/><ellipse cx="675.75" cy="562.87" rx="2.8" ry="4.9" fill="#141020"/><path d="M655.35 581.27 Q667.75 570.87 680.35 581.27" fill="none" stroke="#141020" stroke-width="1.8" stroke-linecap="round"/><text class="b" x="70.9" y="643.92" font-size="14.2" font-weight="bold" text-anchor="middle" fill="#111">6.</text><text class="t" x="298.25" y="643.92" font-size="14.5" font-weight="normal" text-anchor="middle" fill="#111" textLength="144.4" lengthAdjust="spacingAndGlyphs">I feel happy at school.</text><ellipse cx="527.30" cy="638.02" rx="25.3" ry="24.5" fill="#b0d05c" class="fo" stroke="#15102a" stroke-width="1.8"/><ellipse cx="527.30" cy="638.02" rx="23.7" ry="22.9" fill="none" class="ri" stroke="#c6e632" stroke-width="1.4"/><ellipse cx="519.70" cy="633.02" rx="2.8" ry="4.9" fill="#141020"/><ellipse cx="535.30" cy="633.02" rx="2.8" ry="4.9" fill="#141020"/><path d="M513.10 646.42 Q527.30 656.62 541.50 646.42" fill="none" stroke="#141020" stroke-width="2" stroke-linecap="round"/><ellipse cx="598.40" cy="638.02" rx="25.3" ry="24.5" fill="#f5a043" class="fo" stroke="#15102a" stroke-width="1.8"/><ellipse cx="598.40" cy="638.02" rx="23.7" ry="22.9" fill="none" class="ri" stroke="#f78f1a" stroke-width="1.4"/><ellipse cx="590.80" cy="633.02" rx="2.8" ry="4.9" fill="#141020"/><ellipse cx="606.40" cy="633.02" rx="2.8" ry="4.9" fill="#141020"/><path d="M583.10 646.12 H614.00" stroke="#141020" stroke-width="1.5"/><ellipse cx="667.75" cy="638.02" rx="25.3" ry="24.5" fill="#dc2d43" class="fo" stroke="#15102a" stroke-width="1.8"/><ellipse cx="667.75" cy="638.02" rx="23.7" ry="22.9" fill="none" class="ri" stroke="#f5182a" stroke-width="1.4"/><ellipse cx="660.15" cy="633.02" rx="2.8" ry="4.9" fill="#141020"/><ellipse cx="675.75" cy="633.02" rx="2.8" ry="4.9" fill="#141020"/><path d="M655.35 651.42 Q667.75 641.02 680.35 651.42" fill="none" stroke="#141020" stroke-width="1.8" stroke-linecap="round"/><text class="b" x="70.9" y="712.97" font-size="14.2" font-weight="bold" text-anchor="middle" fill="#111">7.</text><text class="t" x="298.25" y="712.97" font-size="14.5" font-weight="normal" text-anchor="middle" fill="#111" textLength="130" lengthAdjust="spacingAndGlyphs">I feel safe at school.</text><ellipse cx="527.30" cy="703.37" rx="25.3" ry="24.5" fill="#b0d05c" class="fo" stroke="#15102a" stroke-width="1.8"/><ellipse cx="527.30" cy="703.37" rx="23.7" ry="22.9" fill="none" class="ri" stroke="#c6e632" stroke-width="1.4"/><ellipse cx="519.70" cy="698.37" rx="2.8" ry="4.9" fill="#141020"/><ellipse cx="535.30" cy="698.37" rx="2.8" ry="4.9" fill="#141020"/><path d="M513.10 711.77 Q527.30 721.97 541.50 711.77" fill="none" stroke="#141020" stroke-width="2" stroke-linecap="round"/><ellipse cx="598.40" cy="703.37" rx="25.3" ry="24.5" fill="#f5a043" class="fo" stroke="#15102a" stroke-width="1.8"/><ellipse cx="598.40" cy="703.37" rx="23.7" ry="22.9" fill="none" class="ri" stroke="#f78f1a" stroke-width="1.4"/><ellipse cx="590.80" cy="698.37" rx="2.8" ry="4.9" fill="#141020"/><ellipse cx="606.40" cy="698.37" rx="2.8" ry="4.9" fill="#141020"/><path d="M583.10 711.47 H614.00" stroke="#141020" stroke-width="1.5"/><ellipse cx="667.75" cy="703.37" rx="25.3" ry="24.5" fill="#dc2d43" class="fo" stroke="#15102a" stroke-width="1.8"/><ellipse cx="667.75" cy="703.37" rx="23.7" ry="22.9" fill="none" class="ri" stroke="#f5182a" stroke-width="1.4"/><ellipse cx="660.15" cy="698.37" rx="2.8" ry="4.9" fill="#141020"/><ellipse cx="675.75" cy="698.37" rx="2.8" ry="4.9" fill="#141020"/><path d="M655.35 716.77 Q667.75 706.37 680.35 716.77" fill="none" stroke="#141020" stroke-width="1.8" stroke-linecap="round"/><text class="b" x="70.9" y="782.02" font-size="14.2" font-weight="bold" text-anchor="middle" fill="#111">8.</text><text class="t" x="298.25" y="782.02" font-size="14.5" font-weight="normal" text-anchor="middle" fill="#111" textLength="253.9" lengthAdjust="spacingAndGlyphs">My teacher listens to me if I need help.</text><ellipse cx="527.30" cy="774.02" rx="25.3" ry="24.5" fill="#b0d05c" class="fo" stroke="#15102a" stroke-width="1.8"/><ellipse cx="527.30" cy="774.02" rx="23.7" ry="22.9" fill="none" class="ri" stroke="#c6e632" stroke-width="1.4"/><ellipse cx="519.70" cy="769.02" rx="2.8" ry="4.9" fill="#141020"/><ellipse cx="535.30" cy="769.02" rx="2.8" ry="4.9" fill="#141020"/><path d="M513.10 782.42 Q527.30 792.62 541.50 782.42" fill="none" stroke="#141020" stroke-width="2" stroke-linecap="round"/><ellipse cx="598.40" cy="774.02" rx="25.3" ry="24.5" fill="#f5a043" class="fo" stroke="#15102a" stroke-width="1.8"/><ellipse cx="598.40" cy="774.02" rx="23.7" ry="22.9" fill="none" class="ri" stroke="#f78f1a" stroke-width="1.4"/><ellipse cx="590.80" cy="769.02" rx="2.8" ry="4.9" fill="#141020"/><ellipse cx="606.40" cy="769.02" rx="2.8" ry="4.9" fill="#141020"/><path d="M583.10 782.12 H614.00" stroke="#141020" stroke-width="1.5"/><ellipse cx="667.75" cy="774.02" rx="25.3" ry="24.5" fill="#dc2d43" class="fo" stroke="#15102a" stroke-width="1.8"/><ellipse cx="667.75" cy="774.02" rx="23.7" ry="22.9" fill="none" class="ri" stroke="#f5182a" stroke-width="1.4"/><ellipse cx="660.15" cy="769.02" rx="2.8" ry="4.9" fill="#141020"/><ellipse cx="675.75" cy="769.02" rx="2.8" ry="4.9" fill="#141020"/><path d="M655.35 787.42 Q667.75 777.02 680.35 787.42" fill="none" stroke="#141020" stroke-width="1.8" stroke-linecap="round"/><text class="b" x="70.9" y="851.07" font-size="14.2" font-weight="bold" text-anchor="middle" fill="#111">9.</text><text class="t" x="298.25" y="851.07" font-size="14.5" font-weight="normal" text-anchor="middle" fill="#111" textLength="253.5" lengthAdjust="spacingAndGlyphs">I have someone to play with at school.</text><ellipse cx="527.30" cy="843.67" rx="25.3" ry="24.5" fill="#b0d05c" class="fo" stroke="#15102a" stroke-width="1.8"/><ellipse cx="527.30" cy="843.67" rx="23.7" ry="22.9" fill="none" class="ri" stroke="#c6e632" stroke-width="1.4"/><ellipse cx="519.70" cy="838.67" rx="2.8" ry="4.9" fill="#141020"/><ellipse cx="535.30" cy="838.67" rx="2.8" ry="4.9" fill="#141020"/><path d="M513.10 852.07 Q527.30 862.27 541.50 852.07" fill="none" stroke="#141020" stroke-width="2" stroke-linecap="round"/><ellipse cx="598.40" cy="843.67" rx="25.3" ry="24.5" fill="#f5a043" class="fo" stroke="#15102a" stroke-width="1.8"/><ellipse cx="598.40" cy="843.67" rx="23.7" ry="22.9" fill="none" class="ri" stroke="#f78f1a" stroke-width="1.4"/><ellipse cx="590.80" cy="838.67" rx="2.8" ry="4.9" fill="#141020"/><ellipse cx="606.40" cy="838.67" rx="2.8" ry="4.9" fill="#141020"/><path d="M583.10 851.77 H614.00" stroke="#141020" stroke-width="1.5"/><ellipse cx="667.75" cy="843.67" rx="25.3" ry="24.5" fill="#dc2d43" class="fo" stroke="#15102a" stroke-width="1.8"/><ellipse cx="667.75" cy="843.67" rx="23.7" ry="22.9" fill="none" class="ri" stroke="#f5182a" stroke-width="1.4"/><ellipse cx="660.15" cy="838.67" rx="2.8" ry="4.9" fill="#141020"/><ellipse cx="675.75" cy="838.67" rx="2.8" ry="4.9" fill="#141020"/><path d="M655.35 857.07 Q667.75 846.67 680.35 857.07" fill="none" stroke="#141020" stroke-width="1.8" stroke-linecap="round"/><text class="b" x="70.9" y="920.12" font-size="14.2" font-weight="bold" text-anchor="middle" fill="#111">10.</text><text class="t" x="298.25" y="920.12" font-size="14.5" font-weight="normal" text-anchor="middle" fill="#111" textLength="223" lengthAdjust="spacingAndGlyphs">I enjoy break time and lunchtime.</text><ellipse cx="527.30" cy="914.62" rx="25.3" ry="24.5" fill="#b0d05c" class="fo" stroke="#15102a" stroke-width="1.8"/><ellipse cx="527.30" cy="914.62" rx="23.7" ry="22.9" fill="none" class="ri" stroke="#c6e632" stroke-width="1.4"/><ellipse cx="519.70" cy="909.62" rx="2.8" ry="4.9" fill="#141020"/><ellipse cx="535.30" cy="909.62" rx="2.8" ry="4.9" fill="#141020"/><path d="M513.10 923.02 Q527.30 933.22 541.50 923.02" fill="none" stroke="#141020" stroke-width="2" stroke-linecap="round"/><ellipse cx="598.40" cy="914.62" rx="25.3" ry="24.5" fill="#f5a043" class="fo" stroke="#15102a" stroke-width="1.8"/><ellipse cx="598.40" cy="914.62" rx="23.7" ry="22.9" fill="none" class="ri" stroke="#f78f1a" stroke-width="1.4"/><ellipse cx="590.80" cy="909.62" rx="2.8" ry="4.9" fill="#141020"/><ellipse cx="606.40" cy="909.62" rx="2.8" ry="4.9" fill="#141020"/><path d="M583.10 922.72 H614.00" stroke="#141020" stroke-width="1.5"/><ellipse cx="667.75" cy="914.62" rx="25.3" ry="24.5" fill="#dc2d43" class="fo" stroke="#15102a" stroke-width="1.8"/><ellipse cx="667.75" cy="914.62" rx="23.7" ry="22.9" fill="none" class="ri" stroke="#f5182a" stroke-width="1.4"/><ellipse cx="660.15" cy="909.62" rx="2.8" ry="4.9" fill="#141020"/><ellipse cx="675.75" cy="909.62" rx="2.8" ry="4.9" fill="#141020"/><path d="M655.35 928.02 Q667.75 917.62 680.35 928.02" fill="none" stroke="#141020" stroke-width="1.8" stroke-linecap="round"/><path d="M35.9 967.4H702.35" stroke="#1a9ae6" stroke-width="3.5"/><g fill="#1c9be6"><circle cx="50" cy="991.5" r="13.5"/><circle cx="66" cy="986" r="13"/><circle cx="82" cy="987" r="11.4"/><circle cx="58.5" cy="997.8" r="11.6"/><circle cx="75" cy="996.5" r="10.5"/><circle cx="86" cy="993.5" r="6"/></g><text x="63" y="996.5" font-size="13" font-weight="bold" text-anchor="middle" fill="#fff" textLength="39.3" lengthAdjust="spacingAndGlyphs">twinkl</text></svg></div>
<svg class="eco" width="1260" height="630" viewBox="0 0 1260 630">
<rect x="966" y="530.8" width="300" height="65.2" rx="3" fill="#7cab44"/>
<path d="M967 596V534.3Q967 531.8 969.5 531.8H1260" fill="none" stroke="#0e8c16" stroke-width="2"/>
<path d="M968 533.6H1260" stroke="#7ba424" stroke-width="1"/>
<path d="M966 594.8H1260" stroke="#68a606" stroke-width="2"/>
<text x="985.2" y="573.6" font-family="'Liberation Sans', Arial, sans-serif" font-size="33.5" fill="#fff" stroke="#1f960a" stroke-width="3.2" paint-order="stroke" textLength="142" lengthAdjust="spacingAndGlyphs">ink saving</text>
<path d="M1184.3 482 L1217.9 547.8 A37.8 37.8 0 1 1 1150.7 547.8 Z" fill="#8dbd44" stroke="#86c232" stroke-width="1.2"/>
<rect x="1183.3" y="533" width="4.1" height="70.2" fill="#b7d78a"/>
<rect x="1183.3" y="603.2" width="4.6" height="12.5" fill="#8cc624"/>
<text x="1160.6" y="571.6" font-family="'Liberation Sans', Arial, sans-serif" font-size="33" font-weight="bold" fill="#fff" stroke="#3aa410" stroke-width="3" paint-order="stroke" textLength="52" lengthAdjust="spacingAndGlyphs">Eco</text>
</svg>
</body></html>
